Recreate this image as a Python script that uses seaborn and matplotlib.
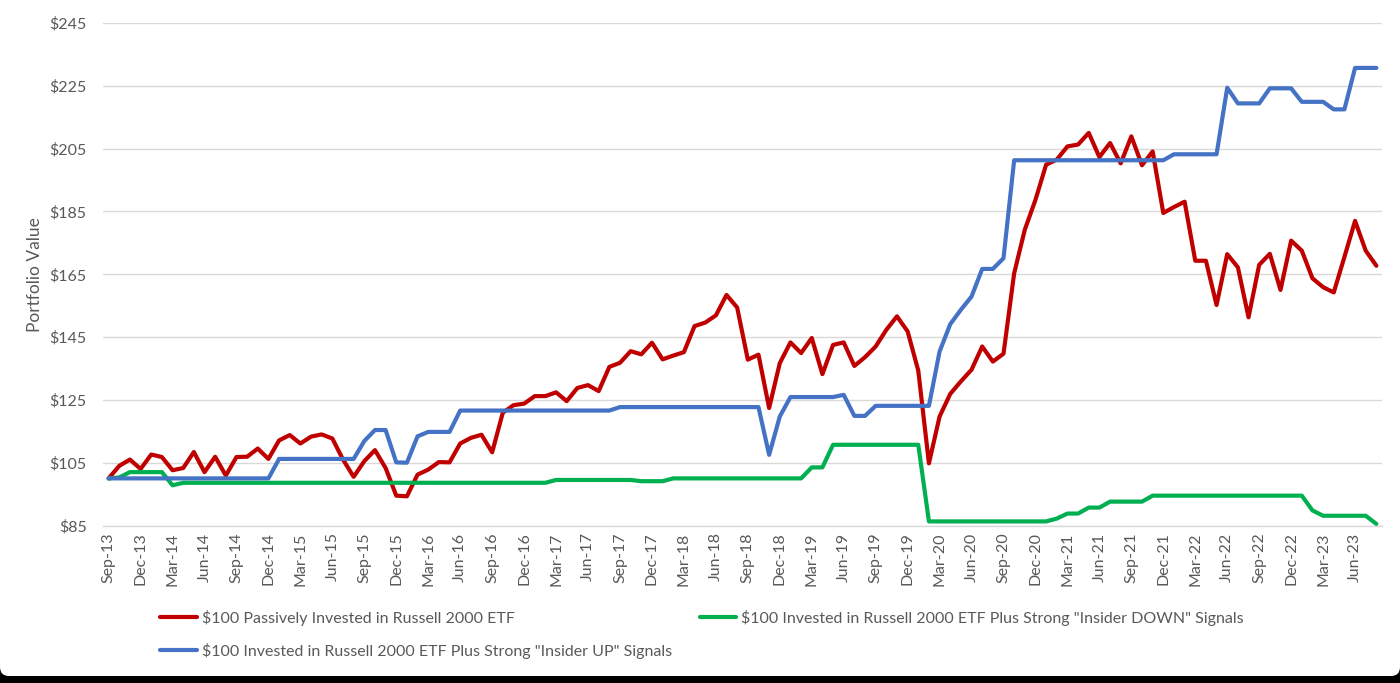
import numpy as np
import pandas as pd
import matplotlib
matplotlib.use("Agg")
import matplotlib.pyplot as plt
from matplotlib.patches import FancyBboxPatch
from matplotlib.transforms import IdentityTransform
from matplotlib.lines import Line2D
import seaborn as sns

# ---------------- data ----------------
months = pd.date_range("2013-09-01", periods=120, freq="MS")
month_labels = [d.strftime("%b-%y") for d in months]

passive = [100, 104, 106, 103, 107.6, 106.8, 102.6, 103.3, 108.4, 102,
           106.9, 100.9, 106.8, 106.9, 109.5, 106.2, 112.1, 113.8, 111.1, 113.3,
           114, 112.7, 106, 100.5, 105.5, 109, 103.3, 94.5, 94.3, 101.2,
           102.8, 105.2, 105.1, 111.1, 112.9, 113.9, 108.3, 120.9, 123.3, 123.8,
           126.2, 126.2, 127.4, 124.6, 128.8, 129.7, 127.8, 135.5, 136.8, 140.5,
           139.5, 143.2, 137.9, 139.1, 140.2, 148.5, 149.6, 151.9, 158.4, 154.4,
           137.8, 139.4, 122.4, 136.7, 143.3, 139.9, 144.7, 133.2, 142.5, 143.3,
           135.8, 138.6, 142, 147.3, 151.6, 146.8, 134.3, 104.8, 119.7, 126.9,
           130.9, 134.6, 142, 137.2, 139.7, 165.3, 179.2, 188.7, 199.9, 201.5,
           205.7, 206.3, 210, 202.3, 206.8, 200.3, 208.9, 199.7, 204.1, 184.5,
           186.4, 188.1, 169.3, 169.3, 155.2, 171.4, 167.2, 151.3, 168, 171.5,
           160, 175.7, 172.5, 163.7, 160.9, 159.2, 170.5, 182, 172.5, 167.7]

insider_down = [100, 100.3, 102, 102, 102, 102, 97.8, 98.6, 98.6, 98.6,
                98.6, 98.6, 98.6, 98.6, 98.6, 98.6, 98.6, 98.6, 98.6, 98.6,
                98.6, 98.6, 98.6, 98.6, 98.6, 98.6, 98.6, 98.6, 98.6, 98.6,
                98.6, 98.6, 98.6, 98.6, 98.6, 98.6, 98.6, 98.6, 98.6, 98.6,
                98.6, 98.6, 99.5, 99.5, 99.5, 99.5, 99.5, 99.5, 99.5, 99.5,
                99.1, 99.1, 99.1, 100, 100, 100, 100, 100, 100, 100,
                100, 100, 100, 100, 100, 100, 103.5, 103.5, 110.7, 110.7,
                110.7, 110.7, 110.7, 110.7, 110.7, 110.7, 110.7, 86.3, 86.3, 86.3,
                86.3, 86.3, 86.3, 86.3, 86.3, 86.3, 86.3, 86.3, 86.3, 87.2,
                88.8, 88.8, 90.7, 90.7, 92.6, 92.6, 92.6, 92.6, 94.5, 94.5,
                94.5, 94.5, 94.5, 94.5, 94.5, 94.5, 94.5, 94.5, 94.5, 94.5,
                94.5, 94.5, 94.5, 89.8, 88.1, 88.1, 88.1, 88.1, 88.1, 85.5]

insider_up = [100, 100, 100, 100, 100, 100, 100, 100, 100, 100,
              100, 100, 100, 100, 100, 100, 106.2, 106.2, 106.2, 106.2,
              106.2, 106.2, 106.2, 106.2, 111.9, 115.4, 115.4, 105.1, 105, 113.4,
              114.8, 114.8, 114.8, 121.6, 121.6, 121.6, 121.6, 121.6, 121.6, 121.6,
              121.6, 121.6, 121.6, 121.6, 121.6, 121.6, 121.6, 121.6, 122.7, 122.7,
              122.7, 122.7, 122.7, 122.7, 122.7, 122.7, 122.7, 122.7, 122.7, 122.7,
              122.7, 122.7, 107.5, 119.7, 125.9, 125.9, 125.9, 125.9, 125.9, 126.6,
              119.9, 119.9, 123.1, 123.1, 123.1, 123.1, 123.1, 123.1, 140.4, 149.1,
              153.7, 157.9, 166.7, 166.7, 170.1, 201.3, 201.3, 201.3, 201.3, 201.3,
              201.3, 201.3, 201.3, 201.3, 201.3, 201.3, 201.3, 201.3, 201.3, 201.3,
              203.2, 203.2, 203.2, 203.2, 203.2, 224.4, 219.4, 219.4, 219.4, 224.2,
              224.2, 224.2, 219.9, 219.9, 219.9, 217.5, 217.5, 230.7, 230.7, 230.7]

series_names = ["$100 Passively Invested in Russell 2000 ETF",
                "$100 Invested in Russell 2000 ETF Plus Strong \"Insider DOWN\" Signals",
                "$100 Invested in Russell 2000 ETF Plus Strong \"Insider UP\" Signals"]
series_colors = ["#C00000", "#00B050", "#4472C4"]
y_ticks = [85, 105, 125, 145, 165, 185, 205, 225, 245]

# ---------------- styling ----------------
sns.set_style("white")
plt.rcParams["font.family"] = ["Lato", "DejaVu Sans"]
TXT = "#595959"
FS = 11.5

W, H = 1400, 683
fig = plt.figure(figsize=(W / 100, H / 100), dpi=100)
fig.patch.set_facecolor("black")
bg = FancyBboxPatch((0, 7), W, H + 40, boxstyle="round,pad=0,rounding_size=9",
                    transform=IdentityTransform(), facecolor="white",
                    edgecolor="none", zorder=-10)
fig.patches.append(bg)

left, right, top, bottom = 103.3, 1381.7, 23.0, 525.5
ax = fig.add_axes([left / W, 1 - bottom / H, (right - left) / W, (bottom - top) / H])
ax.set_facecolor("none")

x = np.arange(len(months))
df = pd.DataFrame({
    "x": np.concatenate([x, x, x]),
    "value": np.concatenate([passive, insider_down, insider_up]),
    "series": np.repeat(series_names, len(x)),
})
sns.lineplot(data=df, x="x", y="value", hue="series", palette=dict(zip(series_names, series_colors)),
             hue_order=series_names, linewidth=3.0, ax=ax, legend=False, sort=False)

ax.set_xlim(-0.5, len(x) - 0.5)
ax.set_ylim(85, 245)
ax.set_yticks(y_ticks)
ax.set_yticklabels([f"${v}" for v in y_ticks])
ax.set_xticks(x[::3])
ax.set_xticklabels(month_labels[::3], rotation=90)
ax.set_xticks(np.arange(-0.5, len(x), 3), minor=True)
ax.tick_params(axis="x", which="major", length=0, pad=5, labelsize=FS, labelcolor=TXT)
ax.tick_params(axis="x", which="minor", length=5, width=1, color="#BFBFBF", direction="out")
ax.tick_params(axis="y", length=0, pad=12, labelsize=FS, labelcolor=TXT)
ax.set_xlabel("")
ax.set_ylabel("")
ax.yaxis.grid(True, color="#D9D9D9", linewidth=1)
ax.set_axisbelow(True)
for s in ["left", "right", "top"]:
    ax.spines[s].set_visible(False)
ax.spines["bottom"].set_color("#D9D9D9")
ax.spines["bottom"].set_linewidth(1)

fig.text(35 / W, 1 - 275 / H, "Portfolio Value", rotation=90, ha="center", va="center",
         fontsize=12.5, color=TXT)

handles = [Line2D([], [], color=series_colors[0], lw=3.0),
           Line2D([], [], color=series_colors[2], lw=3.0),
           Line2D([], [], color=series_colors[1], lw=3.0)]
labels = [series_names[0], series_names[2], series_names[1]]
leg = fig.legend(handles, labels, loc="upper left", bbox_to_anchor=(160 / W, 1 - 610 / H),
                 ncol=2, frameon=False, borderpad=0, borderaxespad=0, handlelength=2.3,
                 handletextpad=0.3, columnspacing=1.75, labelspacing=1.05, fontsize=FS)
for t in leg.get_texts():
    t.set_color(TXT)

fig.savefig("out.png", dpi=100, facecolor=fig.get_facecolor())
